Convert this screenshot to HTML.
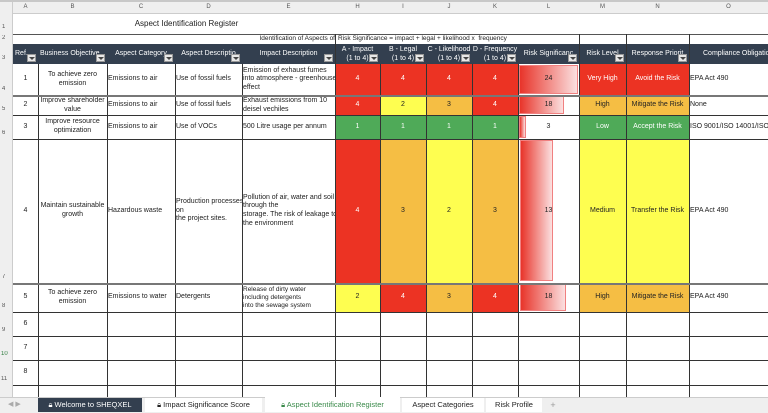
<!DOCTYPE html><html><head><meta charset="utf-8"><style>
*{box-sizing:border-box;margin:0;padding:0}
body{width:768px;height:413px;overflow:hidden;background:#fff;font-family:"Liberation Sans",sans-serif;position:relative}
.c{position:absolute;font-size:7px;color:#222;display:flex;align-items:center;overflow:hidden;line-height:1.22;white-space:nowrap}
.ctr{justify-content:center;text-align:center}
.vl{position:absolute;width:1px;background:#333}
.hl{position:absolute;height:1px;background:#333}
.R{background:#ec3323;color:#fff}.Y{background:#fefe50}.O{background:#f5be44}.G{background:#4faa58;color:#fff}
.H{background:#333f4f;color:#fff;font-size:7px;line-height:1.3}
.dd{position:absolute;width:9px;height:8px;background:#e8e8e8;border:1px solid #999;right:2px;bottom:2px}
.dd:after{content:"";position:absolute;left:1px;top:2px;border-left:3px solid transparent;border-right:3px solid transparent;border-top:3px solid #444}
.bar{position:absolute;background:linear-gradient(90deg,#e8342a,#fbe0e0);border:1px solid #f08080}
</style></head><body>
<div style="position:absolute;left:0;top:0;width:768px;height:2px;background:#c8c8c8"></div>
<div style="position:absolute;left:0;top:2px;width:768px;height:12px;background:#efefef;border-bottom:1px solid #ccc"></div>
<div style="position:absolute;left:0;top:2px;width:13px;height:395px;background:#efefef;border-right:1px solid #ccc"></div>
<div class="c ctr" style="left:13px;top:2px;width:25px;height:12px;color:#555;font-size:6px">A</div>
<div class="c ctr" style="left:38px;top:2px;width:69px;height:12px;color:#555;font-size:6px">B</div>
<div class="c ctr" style="left:107px;top:2px;width:68px;height:12px;color:#555;font-size:6px">C</div>
<div class="c ctr" style="left:175px;top:2px;width:67px;height:12px;color:#555;font-size:6px">D</div>
<div class="c ctr" style="left:242px;top:2px;width:93px;height:12px;color:#555;font-size:6px">E</div>
<div class="c ctr" style="left:335px;top:2px;width:45px;height:12px;color:#555;font-size:6px">H</div>
<div class="c ctr" style="left:380px;top:2px;width:46px;height:12px;color:#555;font-size:6px">I</div>
<div class="c ctr" style="left:426px;top:2px;width:46px;height:12px;color:#555;font-size:6px">J</div>
<div class="c ctr" style="left:472px;top:2px;width:46px;height:12px;color:#555;font-size:6px">K</div>
<div class="c ctr" style="left:518px;top:2px;width:61px;height:12px;color:#555;font-size:6px">L</div>
<div class="c ctr" style="left:579px;top:2px;width:47px;height:12px;color:#555;font-size:6px">M</div>
<div class="c ctr" style="left:626px;top:2px;width:63px;height:12px;color:#555;font-size:6px">N</div>
<div class="c ctr" style="left:689px;top:2px;width:79px;height:12px;color:#555;font-size:6px">O</div>
<div class="c" style="left:2px;top:24px;font-size:6px;color:#555">1</div>
<div class="c" style="left:2px;top:35px;font-size:6px;color:#555">2</div>
<div class="c" style="left:2px;top:55px;font-size:6px;color:#555">3</div>
<div class="c" style="left:2px;top:86px;font-size:6px;color:#555">4</div>
<div class="c" style="left:2px;top:106px;font-size:6px;color:#555">5</div>
<div class="c" style="left:2px;top:130px;font-size:6px;color:#555">6</div>
<div class="c" style="left:2px;top:274px;font-size:6px;color:#555">7</div>
<div class="c" style="left:2px;top:303px;font-size:6px;color:#555">8</div>
<div class="c" style="left:2px;top:327px;font-size:6px;color:#555">9</div>
<div class="c" style="left:1px;top:351px;font-size:6px;color:#2a7a3a">10</div>
<div class="c" style="left:1px;top:376px;font-size:6px;color:#555">11</div>
<div class="c ctr" style="left:38px;top:14px;width:297px;height:20px;font-size:8px">Aspect Identification Register</div>
<div class="hl" style="left:13px;top:34px;width:755px;background:#555"></div>
<div class="c" style="left:242px;top:34px;width:93px;height:10px;justify-content:flex-end;font-size:6.5px">Identification of Aspects of</div>
<div class="c" style="left:338px;top:34px;width:240px;height:10px;font-size:6.5px">Risk Significance = impact + legal + likelihood x &nbsp;frequency</div>
<div class="c H" style="left:13px;top:44px;width:755px;height:20px"></div>
<div class="c H" style="left:14px;top:44px;width:24px;height:20px;padding-left:1px">Ref.<span class="dd"></span></div>
<div class="c H" style="left:38px;top:44px;width:69px;height:20px;padding-left:2px">Business Objective<span class="dd"></span></div>
<div class="c H ctr" style="left:107px;top:44px;width:68px;height:20px">Aspect Category<span class="dd"></span></div>
<div class="c H ctr" style="left:175px;top:44px;width:67px;height:20px">Aspect Descriptio<span class="dd"></span></div>
<div class="c H ctr" style="left:242px;top:44px;width:93px;height:20px">Impact Description<span class="dd"></span></div>
<div class="c H ctr" style="left:335px;top:44px;width:45px;height:20px">A - Impact<br>(1 to 4)<span class="dd"></span></div>
<div class="c H ctr" style="left:380px;top:44px;width:46px;height:20px">B - Legal<br>(1 to 4)<span class="dd"></span></div>
<div class="c H ctr" style="left:426px;top:44px;width:46px;height:20px">C - Likelihood<br>(1 to 4)<span class="dd"></span></div>
<div class="c H ctr" style="left:472px;top:44px;width:46px;height:20px">D - Frequency<br>(1 to 4)<span class="dd"></span></div>
<div class="c H ctr" style="left:518px;top:44px;width:61px;height:20px">Risk Significanc<span class="dd"></span></div>
<div class="c H ctr" style="left:579px;top:44px;width:47px;height:20px">Risk Level<span class="dd"></span></div>
<div class="c H ctr" style="left:626px;top:44px;width:63px;height:20px">Response Priorit<span class="dd"></span></div>
<div class="c H" style="left:689px;top:44px;width:79px;height:20px;padding-left:14px">Compliance Obligation</div>

<div class="c ctr R" style="left:335px;top:64px;width:45px;height:31px">4</div>
<div class="c ctr R" style="left:380px;top:64px;width:46px;height:31px">4</div>
<div class="c ctr R" style="left:426px;top:64px;width:46px;height:31px">4</div>
<div class="c ctr R" style="left:472px;top:64px;width:46px;height:31px">4</div>
<div class="bar" style="left:519px;top:65px;width:59px;height:29px"></div>
<div class="c ctr" style="left:518px;top:64px;width:61px;height:31px">24</div>
<div class="c ctr R" style="left:579px;top:64px;width:47px;height:31px">Very High</div>
<div class="c ctr R" style="left:626px;top:64px;width:63px;height:31px">Avoid the Risk</div>
<div class="c ctr R" style="left:335px;top:95px;width:45px;height:20px">4</div>
<div class="c ctr Y" style="left:380px;top:95px;width:46px;height:20px">2</div>
<div class="c ctr O" style="left:426px;top:95px;width:46px;height:20px">3</div>
<div class="c ctr R" style="left:472px;top:95px;width:46px;height:20px">4</div>
<div class="bar" style="left:519px;top:96px;width:45px;height:18px"></div>
<div class="c ctr" style="left:518px;top:95px;width:61px;height:20px">18</div>
<div class="c ctr O" style="left:579px;top:95px;width:47px;height:20px">High</div>
<div class="c ctr O" style="left:626px;top:95px;width:63px;height:20px">Mitigate the Risk</div>
<div class="c ctr G" style="left:335px;top:115px;width:45px;height:24px">1</div>
<div class="c ctr G" style="left:380px;top:115px;width:46px;height:24px">1</div>
<div class="c ctr G" style="left:426px;top:115px;width:46px;height:24px">1</div>
<div class="c ctr G" style="left:472px;top:115px;width:46px;height:24px">1</div>
<div class="bar" style="left:519px;top:116px;width:7px;height:22px"></div>
<div class="c ctr" style="left:518px;top:115px;width:61px;height:24px">3</div>
<div class="c ctr G" style="left:579px;top:115px;width:47px;height:24px">Low</div>
<div class="c ctr G" style="left:626px;top:115px;width:63px;height:24px">Accept the Risk</div>
<div class="c ctr R" style="left:335px;top:139px;width:45px;height:144px">4</div>
<div class="c ctr O" style="left:380px;top:139px;width:46px;height:144px">3</div>
<div class="c ctr Y" style="left:426px;top:139px;width:46px;height:144px">2</div>
<div class="c ctr O" style="left:472px;top:139px;width:46px;height:144px">3</div>
<div class="bar" style="left:520px;top:140px;width:33px;height:141px"></div>
<div class="c ctr" style="left:518px;top:139px;width:61px;height:144px">13</div>
<div class="c ctr Y" style="left:579px;top:139px;width:47px;height:144px">Medium</div>
<div class="c ctr Y" style="left:626px;top:139px;width:63px;height:144px">Transfer the Risk</div>
<div class="c ctr Y" style="left:335px;top:283px;width:45px;height:29px">2</div>
<div class="c ctr R" style="left:380px;top:283px;width:46px;height:29px">4</div>
<div class="c ctr O" style="left:426px;top:283px;width:46px;height:29px">3</div>
<div class="c ctr R" style="left:472px;top:283px;width:46px;height:29px">4</div>
<div class="bar" style="left:520px;top:284px;width:46px;height:27px"></div>
<div class="c ctr" style="left:518px;top:283px;width:61px;height:29px">18</div>
<div class="c ctr O" style="left:579px;top:283px;width:47px;height:29px">High</div>
<div class="c ctr O" style="left:626px;top:283px;width:63px;height:29px">Mitigate the Risk</div>

<div class="c ctr" style="left:13px;top:64px;width:25px;height:31px">1</div>
<div class="c ctr" style="left:38px;top:64px;width:69px;height:31px">To achieve zero<br>emission</div>
<div class="c" style="left:108px;top:64px;width:67px;height:31px">Emissions to air</div>
<div class="c" style="left:176px;top:64px;width:66px;height:31px">Use of fossil fuels</div>
<div class="c" style="left:243px;top:64px;width:92px;height:31px">Emission of exhaust fumes<br>into atmosphere - greenhouse<br>effect</div>
<div class="c" style="left:690px;top:64px;width:78px;height:31px">EPA Act 490</div>
<div class="c ctr" style="left:13px;top:95px;width:25px;height:20px">2</div>
<div class="c ctr" style="left:38px;top:96px;width:69px;height:19px">Improve shareholder<br>value</div>
<div class="c" style="left:108px;top:95px;width:67px;height:20px">Emissions to air</div>
<div class="c" style="left:176px;top:95px;width:66px;height:20px">Use of fossil fuels</div>
<div class="c" style="left:243px;top:96px;width:92px;height:19px">Exhaust emissions from 10<br>deisel vechiles</div>
<div class="c" style="left:690px;top:95px;width:78px;height:20px">None</div>
<div class="c ctr" style="left:13px;top:115px;width:25px;height:24px">3</div>
<div class="c ctr" style="left:38px;top:115px;width:69px;height:24px">Improve resource<br>optimization</div>
<div class="c" style="left:108px;top:115px;width:67px;height:24px">Emissions to air</div>
<div class="c" style="left:176px;top:115px;width:66px;height:24px">Use of VOCs</div>
<div class="c" style="left:243px;top:115px;width:92px;height:24px">500 Litre usage per annum</div>
<div class="c" style="left:690px;top:115px;width:78px;height:24px">ISO 9001/ISO 14001/ISO 45</div>
<div class="c ctr" style="left:13px;top:139px;width:25px;height:144px">4</div>
<div class="c ctr" style="left:38px;top:139px;width:69px;height:144px">Maintain sustainable<br>growth</div>
<div class="c" style="left:108px;top:139px;width:67px;height:144px">Hazardous waste</div>
<div class="c" style="left:176px;top:139px;width:66px;height:144px">Production processes<br>on<br>the project sites.</div>
<div class="c" style="left:243px;top:139px;width:92px;height:144px">Pollution of air, water and soil<br>through the<br>storage. The risk of leakage to<br>the environment</div>
<div class="c" style="left:690px;top:139px;width:78px;height:144px">EPA Act 490</div>
<div class="c ctr" style="left:13px;top:283px;width:25px;height:29px">5</div>
<div class="c ctr" style="left:38px;top:283px;width:69px;height:29px">To achieve zero<br>emission</div>
<div class="c" style="left:108px;top:283px;width:67px;height:29px">Emissions to water</div>
<div class="c" style="left:176px;top:283px;width:66px;height:29px">Detergents</div>
<div class="c" style="left:243px;top:284px;width:92px;height:28px;font-size:6.5px">Release of dirty water<br>including detergents<br>into the sewage system</div>
<div class="c" style="left:690px;top:283px;width:78px;height:29px">EPA Act 490</div>
<div class="c ctr" style="left:13px;top:312px;width:25px;height:24px">6</div>
<div class="c ctr" style="left:13px;top:336px;width:25px;height:24px">7</div>
<div class="c ctr" style="left:13px;top:360px;width:25px;height:25px">8</div>

<div class="vl" style="left:38px;top:64px;height:333px"></div>
<div class="vl" style="left:107px;top:64px;height:333px"></div>
<div class="vl" style="left:175px;top:64px;height:333px"></div>
<div class="vl" style="left:242px;top:64px;height:333px"></div>
<div class="vl" style="left:335px;top:34px;height:363px"></div>
<div class="vl" style="left:380px;top:64px;height:333px"></div>
<div class="vl" style="left:426px;top:64px;height:333px"></div>
<div class="vl" style="left:472px;top:64px;height:333px"></div>
<div class="vl" style="left:518px;top:64px;height:333px"></div>
<div class="vl" style="left:579px;top:34px;height:363px"></div>
<div class="vl" style="left:626px;top:34px;height:363px"></div>
<div class="vl" style="left:689px;top:34px;height:363px"></div>
<div class="hl" style="left:13px;top:95px;width:755px;background:#777;height:2px"></div>
<div class="hl" style="left:13px;top:115px;width:755px"></div>
<div class="hl" style="left:13px;top:139px;width:755px"></div>
<div class="hl" style="left:13px;top:283px;width:755px;background:#777;height:2px"></div>
<div class="hl" style="left:13px;top:312px;width:755px"></div>
<div class="hl" style="left:13px;top:336px;width:755px"></div>
<div class="hl" style="left:13px;top:360px;width:755px"></div>
<div class="hl" style="left:13px;top:385px;width:755px"></div>

<div style="position:absolute;left:0;top:397px;width:768px;height:16px;background:#efefef;border-top:1px solid #ccc"></div>
<div class="c" style="left:8px;top:399px;height:12px;color:#aaa;font-size:7px">◀ ▶</div>
<div class="c ctr" style="left:38px;top:398px;width:104px;height:14px;background:#333f4f;color:#fff;font-size:7.5px">🔒&#xFE0E; Welcome to SHEQXEL</div>
<div class="c ctr" style="left:145px;top:398px;width:117px;height:14px;background:#fff;font-size:7.5px">🔒&#xFE0E; Impact Significance Score</div>
<div class="c ctr" style="left:265px;top:397px;width:135px;height:15px;background:#fff;color:#3a8a4a;font-size:7.5px">🔒&#xFE0E; Aspect Identification Register</div>
<div class="c ctr" style="left:402px;top:398px;width:82px;height:14px;background:#fff;font-size:7.5px">Aspect Categories</div>
<div class="c ctr" style="left:486px;top:398px;width:56px;height:14px;background:#fff;font-size:7.5px">Risk Profile</div>
<div class="c ctr" style="left:545px;top:398px;width:16px;height:14px;color:#999;font-size:9px">+</div>
</body></html>
